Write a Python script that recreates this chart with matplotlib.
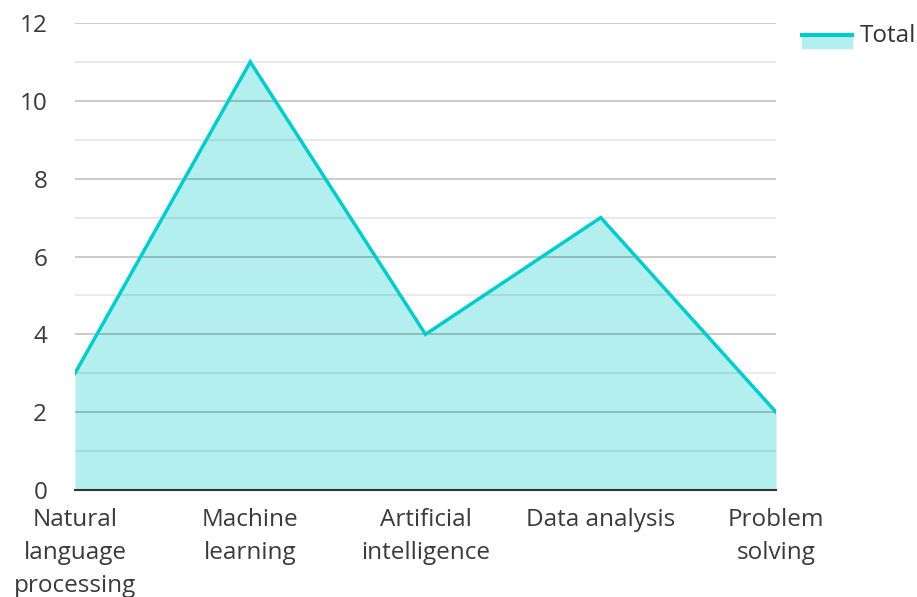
import matplotlib
matplotlib.use('Agg')
from matplotlib import pyplot as plt
from matplotlib.patches import Rectangle
from matplotlib.lines import Line2D
from matplotlib.ticker import MultipleLocator

categories = ['Natural\nlanguage\nprocessing', 'Machine\nlearning', 'Artificial\nintelligence',
              'Data analysis', 'Problem\nsolving']
totals = [3, 11, 4, 7, 2]

line_color = '#00cccc'
fill_color = '#b2efee'
text_color = '#3a3a3a'

plt.rcParams['font.family'] = ['Open Sans', 'DejaVu Sans']

fig = plt.figure(figsize=(9.17, 5.97), dpi=100)
ax = fig.add_axes([75 / 917, 1 - 490 / 597, 701 / 917, 467 / 597])

x = list(range(len(categories)))
ax.fill_between(x, totals, 0, color=fill_color, zorder=1, linewidth=0)
ax.plot(x, totals, color=line_color, linewidth=2.5, zorder=3, solid_joinstyle='miter')

ax.set_xlim(0, len(categories) - 1)
ax.set_ylim(0, 12)
ax.yaxis.set_major_locator(MultipleLocator(2))
ax.yaxis.set_minor_locator(MultipleLocator(1))
ax.grid(True, which='major', axis='y', color='#000000', alpha=0.22, linewidth=1.3, zorder=2)
ax.grid(True, which='minor', axis='y', color='#000000', alpha=0.09, linewidth=1.3, zorder=2)
ax.set_axisbelow(False)

for side in ['top', 'right', 'left']:
    ax.spines[side].set_visible(False)
ax.spines['bottom'].set_color('#333333')
ax.spines['bottom'].set_linewidth(1.5)
ax.spines['bottom'].set_zorder(4)

ax.set_xticks(x)
ax.set_xticklabels(categories, linespacing=1.5)
ax.tick_params(axis='both', which='both', length=0, labelsize=17.5, labelcolor=text_color)
ax.tick_params(axis='x', pad=13)
ax.tick_params(axis='y', pad=20)

# legend
fig.patches.append(Rectangle((802 / 917, 1 - 48 / 597), 50 / 917, 14 / 597,
                             transform=fig.transFigure, color=fill_color, figure=fig))
fig.lines.append(Line2D([802 / 917, 852 / 917], [1 - 35 / 597, 1 - 35 / 597],
                        transform=fig.transFigure, color=line_color, linewidth=3, figure=fig))
fig.text(860 / 917, 1 - 36 / 597, 'Total', fontsize=17.5, color='#333333', va='center', ha='left')

fig.savefig('out.png', dpi=100)
